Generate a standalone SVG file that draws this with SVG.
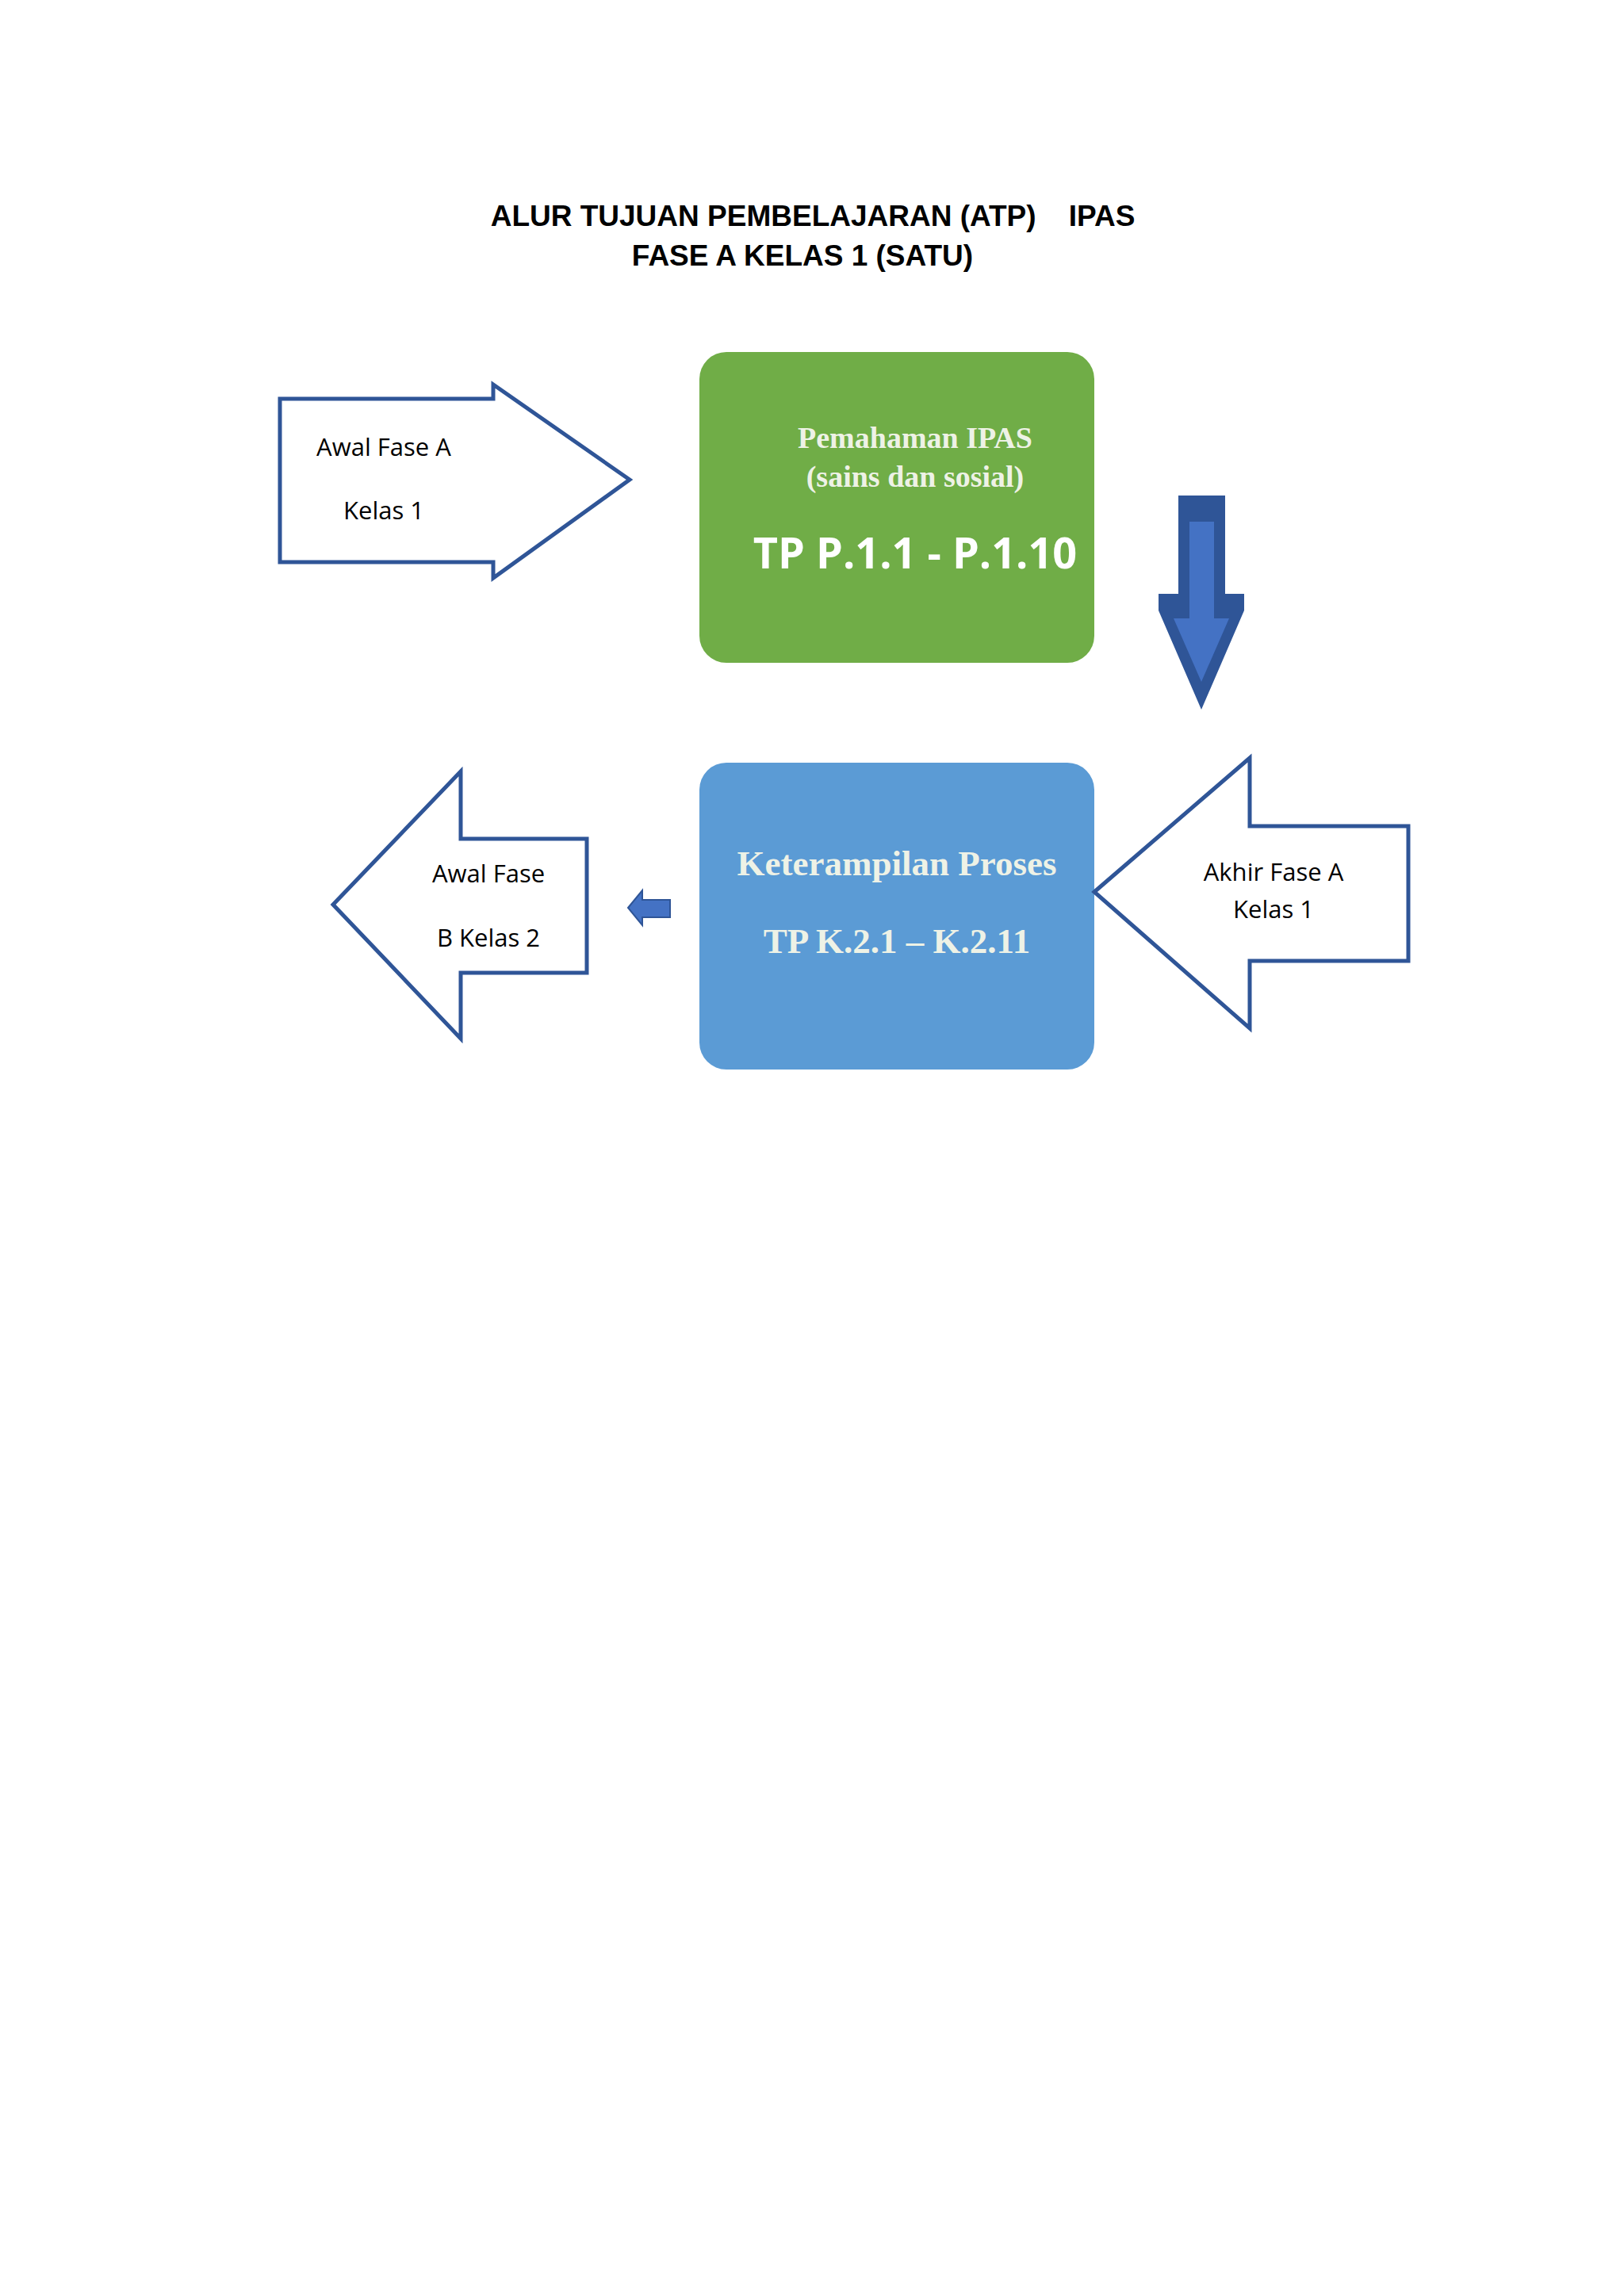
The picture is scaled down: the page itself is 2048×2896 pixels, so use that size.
<svg xmlns="http://www.w3.org/2000/svg" width="2048" height="2896" viewBox="0 0 2048 2896">
<style>
.t{font-family:"Liberation Sans",Arial,sans-serif;font-weight:bold;font-size:37px;fill:#000;text-anchor:middle}
.lbl{font-family:"Open Sans","Liberation Sans",sans-serif;font-size:31px;fill:#000;text-anchor:middle}
.ser{font-family:"Liberation Serif","Times New Roman",serif;font-weight:bold;fill:#EEF2E6;text-anchor:middle}
.ar{fill:#fff;stroke:#2F5597;stroke-width:5;stroke-linejoin:miter}
</style>
<rect width="2048" height="2896" fill="#fff"/>
<text class="t" x="1025" y="285" xml:space="preserve">ALUR TUJUAN PEMBELAJARAN (ATP)    IPAS</text>
<text class="t" x="1012" y="335">FASE A KELAS 1 (SATU)</text>
<g id="n1">
<polygon class="ar" points="353,503 622,503 622,485 794,605 622,729 622,709 353,709"/>
<text class="lbl" x="484" y="575">Awal Fase A</text>
<text class="lbl" x="484" y="655">Kelas 1</text>
</g>
<g id="n2">
<rect x="882" y="444" width="498" height="392" rx="34" fill="#70AD47"/>
<text class="ser" x="1154" y="565" font-size="38">Pemahaman IPAS</text>
<text class="ser" x="1154" y="614" font-size="38">(sains dan sosial)</text>
<text x="1154" y="717" font-family="'Open Sans','Liberation Sans',sans-serif" font-weight="bold" font-size="54" fill="#fff" text-anchor="middle">TP P.1.1 - P.1.10</text>
</g>
<g id="n3">
<rect x="882" y="962" width="498" height="387" rx="34" fill="#5B9BD5"/>
<text class="ser" x="1131" y="1104" font-size="45">Keterampilan Proses</text>
<text class="ser" x="1131" y="1202" font-size="45">TP K.2.1 – K.2.11</text>
</g>
<g id="n4">
<polygon class="ar" points="1380,1125 1576,956 1576,1042 1776,1042 1776,1212 1576,1212 1576,1297"/>
<text class="lbl" x="1606" y="1111">Akhir Fase A</text>
<text class="lbl" x="1606" y="1158">Kelas 1</text>
</g>
<g id="n5">
<polygon class="ar" stroke="#002060" points="420,1141 581,973 581,1058 740,1058 740,1227 581,1227 581,1310"/>
<text class="lbl" x="616" y="1113">Awal Fase</text>
<text class="lbl" x="616" y="1194">B Kelas 2</text>
</g>
<g id="connectors">
<polygon points="1486,625 1545,625 1545,749 1569,749 1569,770 1515,895 1461,770 1461,749 1486,749" fill="#2F5597"/>
<polygon points="1500,658 1531,658 1531,780 1550,780 1515,860 1480,780 1500,780" fill="#4472C4"/>
<polygon points="792,1145 810,1123 810,1135 845,1135 845,1157 810,1157 810,1167" fill="#4472C4" stroke="#2F5597" stroke-width="2"/>
</g>
</svg>
